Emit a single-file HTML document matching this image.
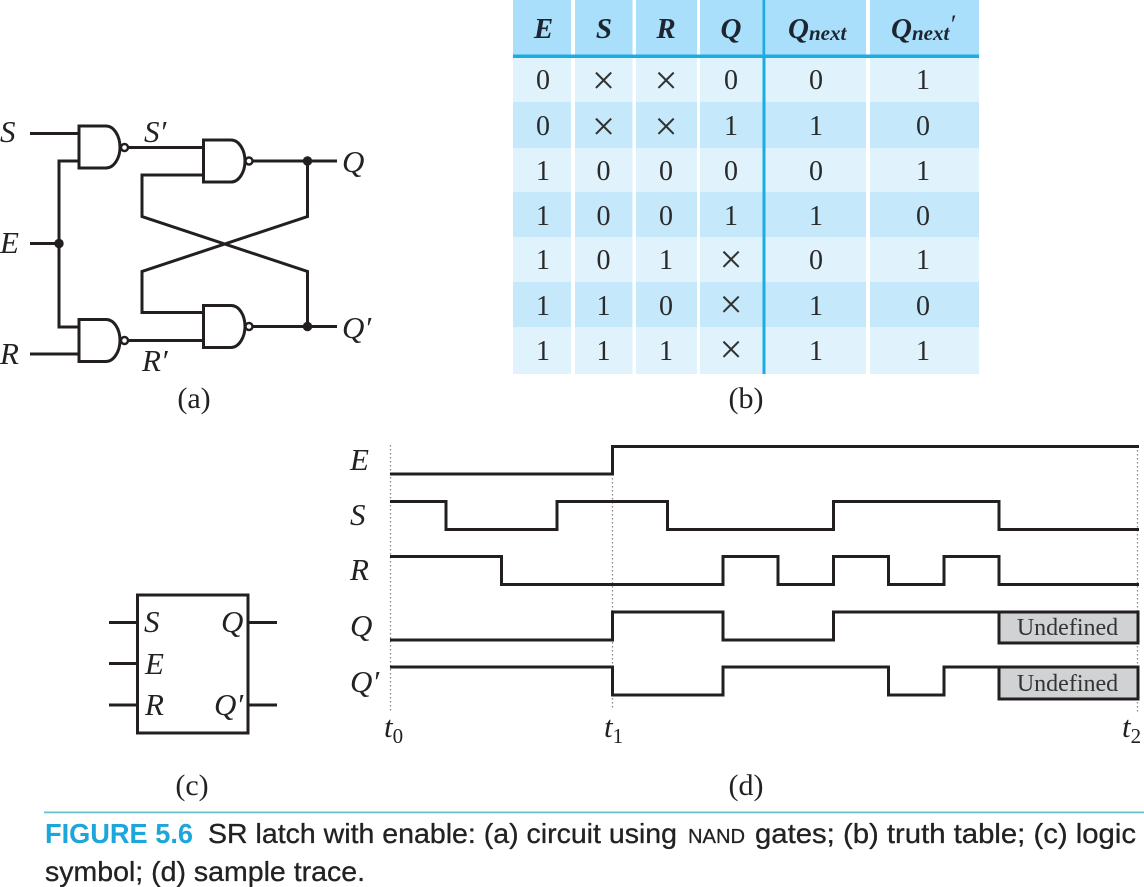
<!DOCTYPE html>
<html><head><meta charset="utf-8"><style>
html,body{margin:0;padding:0;background:#fff;width:1144px;height:887px;overflow:hidden}
svg{display:block}
text{font-family:"Liberation Serif",serif;fill:#222}
.i{font-style:italic;font-size:31px}
.n{font-size:30px}
.h{font-style:italic;font-weight:bold;font-size:29px;text-anchor:middle;fill:#1c2530}
.hs{font-style:italic;font-weight:bold;font-size:29px;fill:#1c2530}
.d text{font-size:28px;text-anchor:middle;fill:#2a2a2a}
.d text.x{font-size:41px;fill:#333}
.w{fill:none;stroke:#231f20;stroke-width:3;stroke-linejoin:miter}
.t{fill:none;stroke:#231f20;stroke-width:3}
.dot{fill:none;stroke:#888;stroke-width:1.3;stroke-dasharray:1.5 2.5}
.c{font-family:"Liberation Sans",sans-serif;font-size:27.5px;fill:#222;stroke:#222;stroke-width:.3}
</style></head><body>
<svg width="1144" height="887" viewBox="0 0 1144 887" xmlns="http://www.w3.org/2000/svg">
<rect width="1144" height="887" fill="#fff"/>

<!-- (a) circuit -->
<g class="w">
<path d="M30 133.5H79"/>
<path d="M79 161H59V327H79"/>
<path d="M30 243.5H59"/>
<path d="M30 354H79"/>
<path d="M79 126H106C114 126 120 136 120 147.5C120 158 114 168 106 168H79Z"/>
<path d="M79 319.5H106C114 319.5 120 329 120 340.5C120 351 114 361.5 106 361.5H79Z"/>
<path d="M128 147.5H203.5"/>
<path d="M128 340.5H203.5"/>
<path d="M203.5 140H231C239 140 245 150 245 161C245 172 239 182 231 182H203.5Z"/>
<path d="M203.5 305.5H231C239 305.5 245 315 245 326.5C245 337 239 347.5 231 347.5H203.5Z"/>
<path d="M252.5 161H337"/>
<path d="M252.5 326.5H337"/>
<path d="M203.5 175H142V216.5L307.5 271.5V326.5"/>
<path d="M307.5 161V216.5L142 271.5V312.5H203.5"/>
</g>
<g fill="#fff" stroke="#231f20" stroke-width="2.4">
<circle cx="124.5" cy="147.5" r="3.5"/>
<circle cx="124.5" cy="340.5" r="3.5"/>
<circle cx="249" cy="161" r="3.5"/>
<circle cx="249" cy="326.5" r="3.5"/>
</g>
<g fill="#231f20">
<circle cx="59" cy="243.5" r="4.7"/>
<circle cx="307.5" cy="161" r="4.7"/>
<circle cx="307.5" cy="326.5" r="4.7"/>
</g>
<g class="i">
<text x="0" y="142">S</text>
<text x="0" y="253">E</text>
<text x="0" y="364">R</text>
<text x="144" y="142">S′</text>
<text x="142" y="371">R′</text>
<text x="342" y="172">Q</text>
<text x="342" y="338">Q′</text>
</g>
<text class="n" x="194" y="408" text-anchor="middle">(a)</text>

<!-- (b) table -->
<g>
<rect x="513" y="0" width="58" height="55" fill="#a9dffa"/>
<rect x="575" y="0" width="57.5" height="55" fill="#a9dffa"/>
<rect x="636" y="0" width="61" height="55" fill="#a9dffa"/>
<rect x="700" y="0" width="63" height="55" fill="#a9dffa"/>
<rect x="766" y="0" width="100" height="55" fill="#a9dffa"/>
<rect x="870" y="0" width="109" height="55" fill="#a9dffa"/>
</g>
<g fill="#e0f3fd">
<rect x="513" y="58" width="466" height="44"/>
<rect x="513" y="148" width="466" height="44"/>
<rect x="513" y="237" width="466" height="45"/>
<rect x="513" y="327" width="466" height="47"/>
</g>
<g fill="#c5e9fb">
<rect x="513" y="102" width="466" height="46"/>
<rect x="513" y="192" width="466" height="45"/>
<rect x="513" y="282" width="466" height="45"/>
</g>
<g fill="#fff">
<rect x="571" y="0" width="4" height="374"/>
<rect x="632.500" y="0" width="3.500" height="374"/>
<rect x="697" y="0" width="3" height="374"/>
<rect x="866" y="0" width="4" height="374"/>
</g>
<rect x="513" y="54.500" width="466" height="3.500" fill="#1cace2"/>
<rect x="762.500" y="0" width="3" height="374" fill="#1cace2"/>

<text class="h" x="543.500" y="38">E</text>
<text class="h" x="604" y="38">S</text>
<text class="h" x="666" y="38">R</text>
<text class="h" x="731" y="38">Q</text>
<text class="hs" x="788" y="38">Q<tspan font-size="21" dy="2">next</tspan></text>
<text class="hs" x="891" y="38">Q<tspan font-size="21" dy="2">next</tspan><tspan font-size="26" dy="-7" font-weight="normal">′</tspan></text>

<g class="d">
<text x="543" y="89">0</text><text class="x" x="603.500" y="94">×</text><text class="x" x="666" y="94">×</text><text x="731" y="89">0</text><text x="816" y="89">0</text><text x="923" y="89">1</text>
<text x="543" y="135">0</text><text class="x" x="603.500" y="140">×</text><text class="x" x="666" y="140">×</text><text x="731" y="135">1</text><text x="816" y="135">1</text><text x="923" y="135">0</text>
<text x="543" y="180">1</text><text x="603.500" y="180">0</text><text x="666" y="180">0</text><text x="731" y="180">0</text><text x="816" y="180">0</text><text x="923" y="180">1</text>
<text x="543" y="225">1</text><text x="603.500" y="225">0</text><text x="666" y="225">0</text><text x="731" y="225">1</text><text x="816" y="225">1</text><text x="923" y="225">0</text>
<text x="543" y="269">1</text><text x="603.500" y="269">0</text><text x="666" y="269">1</text><text class="x" x="731" y="273">×</text><text x="816" y="269">0</text><text x="923" y="269">1</text>
<text x="543" y="315">1</text><text x="603.500" y="315">1</text><text x="666" y="315">0</text><text class="x" x="731" y="318">×</text><text x="816" y="315">1</text><text x="923" y="315">0</text>
<text x="543" y="360">1</text><text x="603.500" y="360">1</text><text x="666" y="360">1</text><text class="x" x="731" y="363">×</text><text x="816" y="360">1</text><text x="923" y="360">1</text>
</g>
<text class="n" x="746" y="408" text-anchor="middle">(b)</text>

<!-- (c) symbol -->
<rect x="137.500" y="595" width="110.500" height="138" fill="#fff" stroke="#231f20" stroke-width="3"/>
<path class="w" d="M109 622.500H137M109 663.500H137M109 705H137M248 622.500H277M248 705H277"/>
<g class="i">
<text x="144" y="632">S</text>
<text x="145" y="674">E</text>
<text x="145" y="715">R</text>
<text x="221" y="632">Q</text>
<text x="214" y="715">Q′</text>
</g>
<text class="n" x="192" y="795" text-anchor="middle">(c)</text>

<!-- (d) traces -->
<path class="dot" d="M390.500 445V712M612.500 446V710M1137.500 446V713"/>
<rect x="999" y="612" width="139" height="31" fill="#d1d2d4" stroke="#231f20" stroke-width="3"/>
<rect x="999" y="667" width="139" height="32" fill="#d1d2d4" stroke="#231f20" stroke-width="3"/>
<g class="t">
<path d="M390 474H612.500V446.500H1139"/>
<path d="M390 501.500H446V529.500H557V501.500H667.500V529.500H833.500V501.500H999V529.500H1139"/>
<path d="M390 556.500H501.500V584.500H723V556.500H778V584.500H833.500V556.500H888.500V584.500H944V556.500H999V584.500H1139"/>
<path d="M390 640H612.500V612H723V640H833.500V612H999"/>
<path d="M390 667H612.500V695H723V667H888.500V695H944V667H999"/>
</g>
<text x="1067.500" y="635" text-anchor="middle" font-size="24" style="fill:#333">Undefined</text>
<text x="1067.500" y="691" text-anchor="middle" font-size="24" style="fill:#333">Undefined</text>
<g class="i">
<text x="350" y="470">E</text>
<text x="350" y="525">S</text>
<text x="350" y="580">R</text>
<text x="350" y="636">Q</text>
<text x="350" y="692">Q′</text>
<text x="384" y="737">t<tspan font-size="21" font-style="normal" dy="6">0</tspan></text>
<text x="604" y="737">t<tspan font-size="21" font-style="normal" dy="6">1</tspan></text>
<text x="1122" y="737">t<tspan font-size="21" font-style="normal" dy="6">2</tspan></text>
</g>
<text class="n" x="746" y="795" text-anchor="middle">(d)</text>

<!-- caption -->
<rect x="44" y="811.500" width="1100" height="1.800" fill="#63c3d1"/>
<text class="c" x="45" y="843" font-weight="bold" style="fill:#1ca6dc;stroke:none" textLength="148" lengthAdjust="spacingAndGlyphs">FIGURE 5.6</text>
<text class="c" x="208" y="843" textLength="469" lengthAdjust="spacingAndGlyphs">SR latch with enable: (a) circuit using</text>
<text class="c" x="688" y="843" style="font-size:20px" textLength="57" lengthAdjust="spacingAndGlyphs">NAND</text>
<text class="c" x="755" y="843" textLength="381" lengthAdjust="spacingAndGlyphs">gates; (b) truth table; (c) logic</text>
<text class="c" x="45" y="881" textLength="320" lengthAdjust="spacingAndGlyphs">symbol; (d) sample trace.</text>
</svg>
</body></html>
